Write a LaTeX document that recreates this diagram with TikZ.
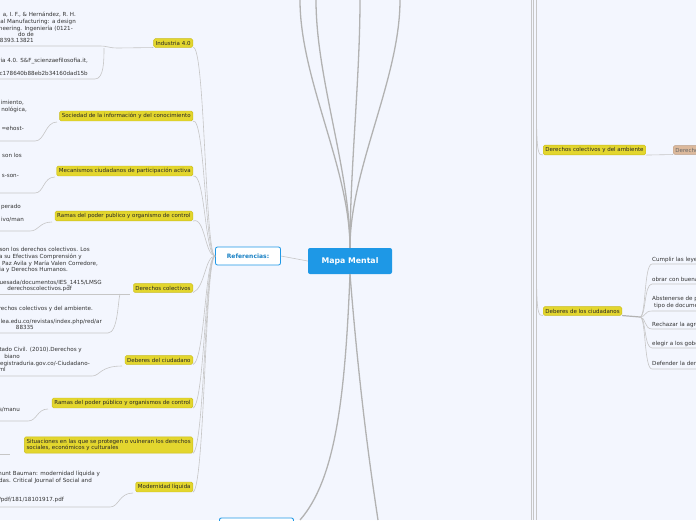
\documentclass[tikz,border=0pt]{standalone}
\usepackage{fontspec}
\setmainfont{DejaVu Sans}
\begin{document}
\begin{tikzpicture}[x=1pt,y=-1pt,
 yel/.style={fill=ylw,draw=ylwd,rounded corners=1.5pt,inner sep=2.2pt,font=\fontsize{5.5}{6.3}\selectfont,text=black!85,anchor=east},
 tx/.style={font=\fontsize{5.6}{6.6}\selectfont,text=black!80,anchor=base east,inner sep=0pt},
 txw/.style={font=\fontsize{5.6}{6.6}\selectfont,text=black!80,anchor=base west,inner sep=0pt},
 ln/.style={draw=gray!45,line width=0.6pt},
 thk/.style={draw=gray!60,line width=1.3pt}]
\definecolor{ylw}{HTML}{E3D62E}\definecolor{ylwd}{HTML}{C9BC1C}
\definecolor{bg}{HTML}{F3F6FE}\definecolor{mblue}{HTML}{1E98E6}\definecolor{tan}{HTML}{DCB99C}
\fill[bg] (0,0) rectangle (696,520);
\useasboundingbox (0,0) rectangle (696,520);
% centre
\node[fill=mblue,rounded corners=2pt,minimum width=84pt,minimum height=26pt,text=white,font=\fontsize{7.8}{9}\selectfont\bfseries] (mm) at (350,261) {Mapa Mental};
\node[draw=mblue,fill=white,rounded corners=2pt,line width=0.8pt,minimum width=65pt,minimum height=18pt,text=mblue!85!black,font=\fontsize{6}{7}\selectfont\bfseries] (ref) at (248,256) {Referencias:};
\draw[ln] (ref.east) -- (mm.west);
\coordinate (t1) at (300,0);\coordinate (t2) at (316,0);\coordinate (t3) at (360,0);\coordinate (t4) at (400,0);
\coordinate (b1) at (300,520);\coordinate (b2) at (378,520);
\foreach \c in {t1,t2,t3,t4}{\draw[thk] (mm.north) to[out=90,in=-90,looseness=0.8] (\c);}
\draw[thk] (mm.south) .. controls (345,400) and (335,480) .. (b1);
\draw[thk] (mm.south) .. controls (360,400) and (372,480) .. (b2);
\node[draw=mblue,fill=white,rounded corners=2pt,line width=0.9pt,minimum width=74pt,minimum height=10pt,anchor=north west] (bot) at (219,517.5) {};
% left yellow nodes
\node[yel] (n1) at (193,43) {Industria 4.0};
\node[yel] (n2) at (193,116) {Sociedad de la información y del conocimiento};
\node[yel] (n3) at (193,171) {Mecanismos ciudadanos de participación activa};
\node[yel] (n4) at (193,216) {Ramas del poder publico y organismo de control};
\node[yel] (n5) at (193,288) {Derechos colectivos};
\node[yel] (n6) at (193,360) {Deberes del ciudadano};
\node[yel] (n7) at (193,403) {Ramas del poder público y organismos de control};
\node[yel,align=left,font=\fontsize{5.5}{6.6}\selectfont] (n8) at (193,445) {Situaciones en las que se protegen o vulneran los derechos\\sociales, económicos y culturales};
\node[yel] (n9) at (193,487) {Modernidad líquida};
\foreach \n in {n1,n2,n3,n4,n5,n6,n7,n8,n9}{\draw[ln] (ref.west) .. controls (205,256) and (205,0|-\n.east) .. (\n.south east) ;}
% left texts
\node[tx] at (76,16) {a, I. F., \& Hernández, R. H.};
\node[tx] at (76,23) {al Manufacturing: a design};
\node[tx] at (73,30) {neering. Ingeniería (0121-};
\node[tx] at (34,36) {do de};
\node[tx] at (34,42) {-8393.13821};
\node[tx] at (88,62) {ria 4.0. S\&F\_scienzaefilosofia.it,};
\node[tx] at (88,75) {ac178640b88eb2b34160dad15b};
\coordinate (c1) at (118,48);
\draw[ln] (0,46) -- (100,46) .. controls (108,46) and (108,48) .. (c1) -- (n1.south west);
\draw[ln] (0,79) -- (95,79) .. controls (104,79) and (104,60) .. (104,48);
\node[tx] at (24,104) {imiento,};
\node[tx] at (27,111) {nológica,};
\node[tx] at (24,130) {=ehost-};
\draw[ln] (0,141) -- (35,141) .. controls (45,141) and (45,122) .. (57,122);
\node[tx] at (22,157) {son los};
\node[tx] at (19,177) {s-son-};
\draw[ln] (0,193) -- (35,193) .. controls (44,193) and (43,177) .. (55,177);
\node[tx] at (21,208) {perado};
\node[tx] at (24,221) {ivo/man};
\draw[ln] (0,231) -- (30,231) .. controls (39,231) and (39,222) .. (52,222);
\node[tx] at (90,251) {son los derechos colectivos. Los};
\node[tx] at (82,258) {a su Efectivas Comprensión y};
\node[tx] at (98,265) {a Paz Avila y María Valen Corredore,};
\node[tx] at (68,271) {ia y Derechos Humanos.};
\node[tx] at (102,284) {uesada/documentos/IES\_1415/LMSG};
\node[tx] at (72,290) {derechoscolectivos.pdf};
\draw[ln] (0,294) -- (130,294);
\node[tx] at (93,310) {erechos colectivos y del ambiente.};
\node[tx] at (102,323) {lea.edu.co/revistas/index.php/red/ar};
\node[tx] at (34,329) {88335};
\draw[ln] (0,333) -- (108,333) .. controls (118,333) and (118,300) .. (120,294);
\node[tx] at (82,351) {tado Civil. (2010).Derechos y};
\node[tx] at (20,358) {biano};
\node[tx] at (90,365) {registraduria.gov.co/-Ciudadano-};
\node[tx] at (6,371) {ml};
\draw[ln] (0,376) -- (92,376) .. controls (100,376) and (100,366) .. (122,366);
\node[tx] at (20,411) {s/manu};
\draw[ln] (0,421) -- (28,421) .. controls (37,421) and (37,409) .. (48,409);
\draw[ln] (0,454) -- (10,454);
\node[tx] at (100,475) {munt Bauman: modernidad líquida y};
\node[tx] at (92,482) {adas. Critical Journal of Social and};
\node[tx] at (64,501) {/pdf/181/18101917.pdf};
\draw[ln] (0,507) -- (110,507) .. controls (119,507) and (119,493) .. (133,493);
% right side
\foreach \x in {531.5,533.5,536.5}{\draw[ln,line width=0.8pt] (\x,0) -- (\x,520);}
\node[yel,anchor=west] (r1) at (543,150) {Derechos colectivos y del ambiente};
\node[fill=tan,draw=tan!85!black,rounded corners=1.5pt,inner sep=2.2pt,anchor=west,font=\fontsize{5.5}{6.3}\selectfont,text=black!60] (r1b) at (673,150) {Derechos};
\draw[ln] (r1.south east) -- (r1b.south west);
\draw[ln] (536.5,120) .. controls (537,150) and (538,156) .. (r1.south west);
\node[yel,anchor=west] (r2) at (543,311) {Deberes de los ciudadanos};
\draw[ln] (536.5,280) .. controls (537,310) and (538,317) .. (r2.south west);
\coordinate (hub) at (640,317);
\draw[draw=gray!60,line width=1.2pt] (r2.south east) -- (hub);
\foreach \t/\y/\yl in {Cumplir las leyes/259/264,obrar con buena fe/279/284,Rechazar la agresión/324/329,elegir a los gobernantes/343/348,Defender la democracia/363/369}{
 \node[txw] (k\y) at (652,\y+2) {\t};
 \draw[ln] (hub) .. controls (646,317) and (644,\yl) .. (652,\yl) -- (696,\yl);}
\node[txw] at (652,300) {Abstenerse de portar};
\node[txw] at (654,307) {tipo de documentos};
\draw[ln] (hub) .. controls (646,317) and (644,311) .. (652,311) -- (696,311);
\end{tikzpicture}
\end{document}
